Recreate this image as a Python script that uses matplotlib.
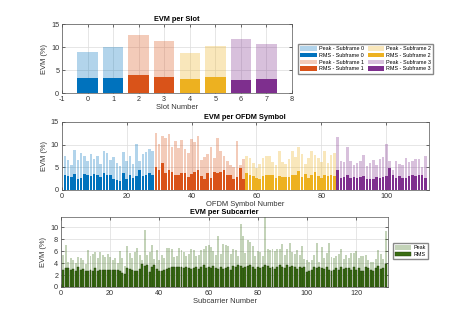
import matplotlib
matplotlib.use("Agg")
import matplotlib.pyplot as plt
import numpy as np

plt.rcParams['font.family'] = ['Liberation Sans', 'DejaVu Sans']
plt.rcParams['axes.unicode_minus'] = False

# MATLAB default line colours, one per subframe
SUBFRAME_COLORS = ['#0072BD', '#D95319', '#EDB120', '#7E2F8E']
GREEN = '#3B6E14'

# EVM per slot (%)
slot_peak = [8.9, 10.1, 12.6, 11.4, 8.7, 10.3, 11.7, 10.7]
slot_rms = [3.3, 3.3, 3.9, 3.4, 3.0, 3.4, 2.9, 3.1]

# EVM per OFDM symbol (%), 14 symbols per slot, 2 slots per subframe
sym_peak = [7.4, 6.7, 5.6, 8.8, 6.6, 8.2, 7.6, 6.4, 8.0, 6.9, 7.4, 5.8, 8.6, 8.2,
            6.6, 7.2, 5.9, 5.2, 8.4, 6.3, 7.6, 5.8, 10.1, 6.4, 8.0, 8.4, 9.0, 8.7,
            12.6, 10.2, 12.0, 11.5, 12.4, 9.5, 10.9, 9.3, 11.0, 9.0, 8.2, 11.3, 10.5, 11.9,
            6.6, 7.3, 8.0, 9.5, 7.1, 11.4, 8.5, 7.4, 6.5, 5.6, 5.0, 10.7, 5.5, 6.8,
            7.5, 7.0, 6.0, 4.8, 5.7, 7.0, 7.5, 7.4, 6.2, 5.6, 8.7, 6.1, 5.7, 6.9,
            8.7, 7.2, 9.5, 7.9, 5.8, 7.1, 8.5, 7.8, 7.0, 6.2, 8.5, 6.0, 7.8, 8.2,
            11.7, 6.3, 6.2, 9.5, 6.5, 5.5, 6.0, 6.5, 7.7, 5.2, 6.0, 6.6, 5.5, 6.8,
            7.2, 10.2, 6.4, 4.5, 6.5, 5.8, 5.5, 7.1, 6.2, 6.5, 6.9, 6.8, 5.0, 7.4]
sym_rms = [3.3, 3.0, 2.8, 3.6, 2.4, 2.7, 3.6, 3.2, 3.0, 3.5, 3.2, 2.8, 3.7, 3.4,
           3.3, 2.4, 2.1, 2.0, 3.8, 2.5, 3.2, 2.6, 3.0, 4.3, 3.1, 3.3, 3.7, 3.4,
           5.1, 4.3, 5.9, 3.7, 4.5, 3.9, 3.4, 3.3, 3.8, 3.7, 2.8, 3.6, 3.9, 4.3,
           3.1, 2.5, 3.8, 2.7, 3.9, 3.8, 3.9, 4.5, 3.4, 3.2, 2.5, 2.8, 4.8, 2.4,
           3.7, 3.3, 3.0, 2.6, 2.4, 3.0, 3.4, 3.4, 3.2, 2.6, 3.1, 2.8, 2.8, 2.9,
           3.2, 3.3, 4.1, 2.8, 3.6, 2.7, 3.3, 4.0, 3.0, 2.7, 3.4, 3.1, 3.4, 3.0,
           4.4, 2.6, 2.9, 3.3, 2.6, 2.9, 2.7, 2.8, 3.1, 2.5, 2.5, 2.5, 2.9, 2.7,
           2.8, 3.1, 4.8, 3.3, 2.6, 3.0, 2.6, 2.7, 3.0, 3.2, 3.0, 3.3, 3.4, 2.6]

# EVM per subcarrier (%)
sc_peak = [5.4, 7.1, 4.1, 4.9, 4.5, 4.0, 5.0, 4.9, 4.5, 3.9,
           6.1, 5.1, 5.5, 5.8, 4.8, 5.9, 5.4, 5.0, 5.5, 5.0,
           4.5, 4.9, 4.0, 6.0, 4.8, 3.5, 6.8, 5.6, 4.8, 5.8,
           6.6, 5.4, 4.5, 9.5, 5.4, 5.8, 7.0, 4.7, 6.2, 4.5,
           5.3, 4.8, 6.5, 6.6, 6.4, 5.0, 5.2, 6.6, 6.2, 5.8,
           5.2, 5.5, 6.3, 6.1, 5.2, 5.4, 6.2, 6.4, 6.9, 7.0,
           6.7, 6.0, 5.4, 8.5, 5.5, 7.2, 7.0, 6.8, 5.5, 6.3,
           6.2, 5.1, 10.6, 8.5, 5.7, 7.8, 7.5, 6.8, 5.2, 6.0,
           5.8, 5.1, 11.7, 6.4, 6.2, 6.3, 6.0, 6.4, 6.3, 7.2,
           5.3, 6.4, 7.4, 5.8, 5.5, 6.2, 5.3, 6.8, 4.7, 4.5,
           4.2, 4.5, 5.3, 7.4, 4.2, 6.7, 4.8, 5.6, 7.3, 5.0,
           4.8, 5.2, 5.5, 6.4, 4.6, 5.3, 4.8, 5.6, 5.7, 6.0,
           4.8, 5.1, 5.2, 5.3, 4.5, 4.2, 4.1, 4.7, 6.2, 5.5,
           4.6, 9.3]
sc_rms = [2.9, 3.1, 3.2, 2.8, 3.0, 2.6, 3.3, 2.8, 3.0, 2.7,
          2.7, 2.8, 2.6, 3.2, 2.7, 2.9, 2.9, 2.8, 2.9, 2.8,
          2.9, 2.8, 2.9, 2.6, 2.3, 2.1, 3.2, 3.0, 2.9, 2.6,
          2.7, 3.0, 3.8, 3.5, 3.6, 2.5, 3.3, 3.7, 3.0, 2.7,
          2.6, 2.9, 3.0, 3.1, 3.3, 3.4, 3.4, 3.3, 3.3, 3.2,
          3.3, 3.2, 3.0, 3.2, 3.4, 3.0, 3.3, 3.6, 3.2, 3.3,
          3.1, 3.5, 3.2, 3.0, 3.3, 3.0, 3.1, 3.3, 2.9, 3.5,
          3.4, 3.6, 3.5, 3.1, 3.3, 3.5, 3.6, 3.3, 3.0, 3.4,
          3.1, 3.4, 3.6, 3.5, 3.2, 3.4, 3.0, 3.4, 3.6, 3.4,
          3.2, 3.6, 3.3, 3.5, 3.3, 3.0, 3.4, 3.1, 3.3, 2.5,
          2.6, 2.9, 3.3, 3.1, 3.4, 3.2, 3.0, 3.3, 2.9, 2.6,
          2.9, 3.1, 2.8, 3.3, 3.0, 3.2, 3.1, 2.8, 3.3, 2.9,
          3.1, 2.6, 2.7, 3.3, 3.1, 2.8, 2.6, 3.2, 3.5, 3.0,
          3.2, 3.8]

FS = 5.2


def style_axes(ax, title, xlabel):
    ax.set_title(title, fontsize=FS + 0.1, fontweight='bold', pad=2)
    ax.set_xlabel(xlabel, fontsize=FS + 0.2, labelpad=1, color='#333333')
    ax.set_ylabel('EVM (%)', fontsize=FS + 0.2, labelpad=2, color='#333333')
    ax.grid(True, color='#dcdcdc', linewidth=0.5)
    ax.set_axisbelow(True)
    ax.tick_params(direction='in', length=2, width=0.5, labelsize=FS,
                   colors='#333333', top=True, right=True, pad=2)
    for s in ax.spines.values():
        s.set_color('#555555')
        s.set_linewidth(0.5)


fig = plt.figure(figsize=(4.74, 3.23), dpi=100)

# --- per slot ---
ax1 = fig.add_axes([0.1308, 0.712, 0.4852, 0.2136])
slots = np.arange(len(slot_peak))
for k, c in enumerate(SUBFRAME_COLORS):
    idx = slots[2 * k:2 * k + 2]
    ax1.bar(idx, [slot_peak[i] for i in idx], width=0.8, color=c, alpha=0.3,
            linewidth=0, label=f'Peak - Subframe {k}')
    ax1.bar(idx, [slot_rms[i] for i in idx], width=0.8, color=c,
            linewidth=0, label=f'RMS - Subframe {k}')
ax1.set_xlim(-1, 8)
ax1.set_xticks(np.arange(-1, 9))
ax1.set_ylim(0, 15)
ax1.set_yticks([0, 5, 10, 15])
style_axes(ax1, 'EVM per Slot', 'Slot Number')
ax1.legend(loc='upper left', bbox_to_anchor=(0.629, 0.864),
           bbox_transform=fig.transFigure, ncol=2, fontsize=3.9,
           fancybox=False, edgecolor='#888888', framealpha=1,
           handlelength=3.0, handleheight=0.9, handletextpad=0.4,
           columnspacing=0.7, labelspacing=0.3, borderpad=0.4,
           borderaxespad=0)

# --- per OFDM symbol ---
ax2 = fig.add_axes([0.130, 0.4118, 0.7743, 0.2105])
sym_x = np.arange(1, len(sym_peak) + 1)
sym_colors = [SUBFRAME_COLORS[i // 28] for i in range(len(sym_peak))]
ax2.bar(sym_x, sym_peak, width=0.8, color=sym_colors, alpha=0.3, linewidth=0)
ax2.bar(sym_x, sym_rms, width=0.8, color=sym_colors, linewidth=0)
ax2.set_xlim(0, 113)
ax2.set_xticks(np.arange(0, 101, 20))
ax2.set_ylim(0, 15)
ax2.set_yticks([0, 5, 10, 15])
style_axes(ax2, 'EVM per OFDM Symbol', 'OFDM Symbol Number')

# --- per subcarrier ---
ax3 = fig.add_axes([0.1287, 0.1115, 0.69, 0.2167])
sc_x = np.arange(1, len(sc_peak) + 1)
ax3.bar(sc_x, sc_peak, width=0.8, color=GREEN, alpha=0.3, linewidth=0,
        label='Peak')
ax3.bar(sc_x, sc_rms, width=0.8, color=GREEN, edgecolor='#1e3a08',
        linewidth=0.3, label='RMS')
ax3.set_xlim(0, 133)
ax3.set_xticks(np.arange(0, 121, 20))
ax3.set_ylim(0, max(sc_peak))
ax3.set_yticks(np.arange(0, 11, 2))
style_axes(ax3, 'EVM per Subcarrier', 'Subcarrier Number')
ax3.legend(loc='upper left', bbox_to_anchor=(0.829, 0.248),
           bbox_transform=fig.transFigure, fontsize=3.9,
           fancybox=False, edgecolor='#888888', framealpha=1,
           handlelength=3.0, handleheight=0.9, handletextpad=0.4,
           labelspacing=0.3, borderpad=0.4, borderaxespad=0)

fig.savefig('out.png', dpi=100)
